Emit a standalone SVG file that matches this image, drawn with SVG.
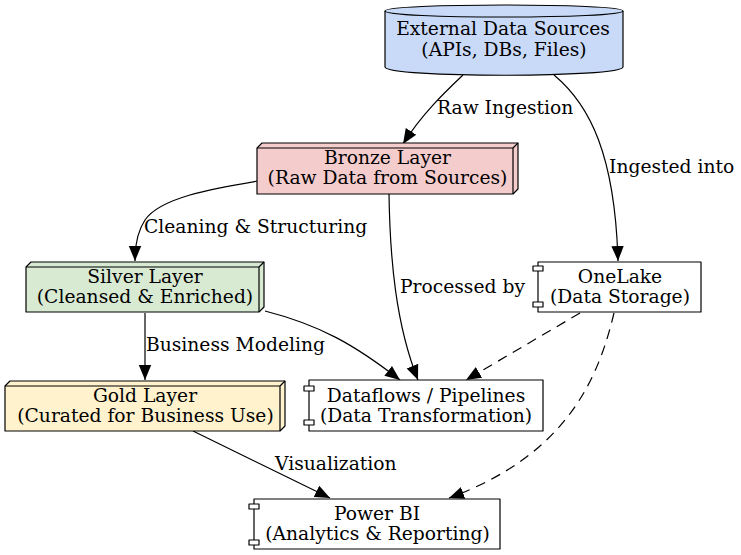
<svg xmlns="http://www.w3.org/2000/svg" width="741" height="555" viewBox="0 0 741 555">
<style>
text{font-family:"DejaVu Serif",serif;font-size:18.7px;fill:#000;text-anchor:middle}
.e{text-anchor:start}
.s{stroke:#000;stroke-width:1.2;stroke-linejoin:round}
.n{fill:none}
.w{fill:#fff}
.c{fill:none;stroke:#000;stroke-width:1.2}
.d{stroke-dasharray:10 7}
</style>
<defs><marker id="a" markerUnits="userSpaceOnUse" markerWidth="16" markerHeight="14" refX="15" refY="7" orient="auto"><path d="M0 0.8L15 7L0 13.2Z" fill="#000"/></marker></defs>
<rect width="741" height="555" fill="#fff"/>
<g id="connectors">
<path class="c" marker-end="url(#a)" d="M463 75C445 92 422 114 403 144"/>
<path class="c" marker-end="url(#a)" d="M554 75C590 105 615 155 618 261"/>
<path class="c" marker-end="url(#a)" d="M258 181C210 189 160 198 145 220C137 232 135 245 135 261"/>
<path class="c" marker-end="url(#a)" d="M389 194C390 260 396 325 418 380"/>
<path class="c" marker-end="url(#a)" d="M145 313V380"/>
<path class="c" marker-end="url(#a)" d="M265 311C320 325 355 345 400 380"/>
<path class="c d" marker-end="url(#a)" d="M580 313L466 380"/>
<path class="c d" marker-end="url(#a)" d="M614 313C598 380 566 455 449 498"/>
<path class="c" marker-end="url(#a)" d="M193 431L330 498"/>
<text class="e" x="437" y="113.600">Raw Ingestion</text>
<text class="e" x="609" y="172.600">Ingested into</text>
<text class="e" x="144" y="232.600">Cleaning &amp; Structuring</text>
<text class="e" x="400" y="292.600">Processed by</text>
<text class="e" x="146" y="350.600">Business Modeling</text>
<text class="e" x="275" y="469.600">Visualization</text>
</g>
<g id="external">
<path class="s" fill="#c9daf8" d="M385 11C385 3 623 3 623 11V67C623 78 385 78 385 67Z"/>
<path class="s n" d="M385 11C385 19 623 19 623 11"/>
<text x="503" y="34.500">External Data Sources</text><text x="504" y="55.500">(APIs, DBs, Files)</text>
</g>
<g id="bronze">
<path class="s" fill="#f4cccc" d="M257 148V194H513L518 189V143H262Z"/>
<path class="s n" d="M257 148H513V194M513 148L518 143"/>
<text x="387.500" y="163.600">Bronze Layer</text><text x="387.500" y="183.600">(Raw Data from Sources)</text>
</g>
<g id="silver">
<path class="s" fill="#d9ead3" d="M26 267V312H259L264 307V262H31Z"/>
<path class="s n" d="M26 267H259V312M259 267L264 262"/>
<text x="145" y="282.600">Silver Layer</text><text x="145" y="302.600">(Cleansed &amp; Enriched)</text>
</g>
<g id="gold">
<path class="s" fill="#fff2cc" d="M5 386V431H280L285 426V381H10Z"/>
<path class="s n" d="M5 386H280V431M280 386L285 381"/>
<text x="145" y="401.600">Gold Layer</text><text x="145.500" y="421.600">(Curated for Business Use)</text>
</g>
<g id="onelake">
<rect class="s w" x="538" y="262" width="163" height="50"/>
<rect class="s w" x="533" y="266" width="10" height="5"/><rect class="s w" x="533" y="302" width="10" height="5"/>
<text x="620" y="282.600">OneLake</text><text x="620" y="302.600">(Data Storage)</text>
</g>
<g id="dataflows">
<rect class="s w" x="309" y="380" width="234" height="51"/>
<rect class="s w" x="304" y="386" width="10" height="5"/><rect class="s w" x="304" y="420" width="10" height="5"/>
<text x="426" y="401.600">Dataflows / Pipelines</text><text x="426" y="421.600">(Data Transformation)</text>
</g>
<g id="powerbi">
<rect class="s w" x="254" y="499" width="246" height="50"/>
<rect class="s w" x="249" y="504" width="10" height="5"/><rect class="s w" x="249" y="540" width="10" height="5"/>
<text x="377" y="519.600">Power BI</text><text x="377.500" y="539.600">(Analytics &amp; Reporting)</text>
</g>
</svg>
